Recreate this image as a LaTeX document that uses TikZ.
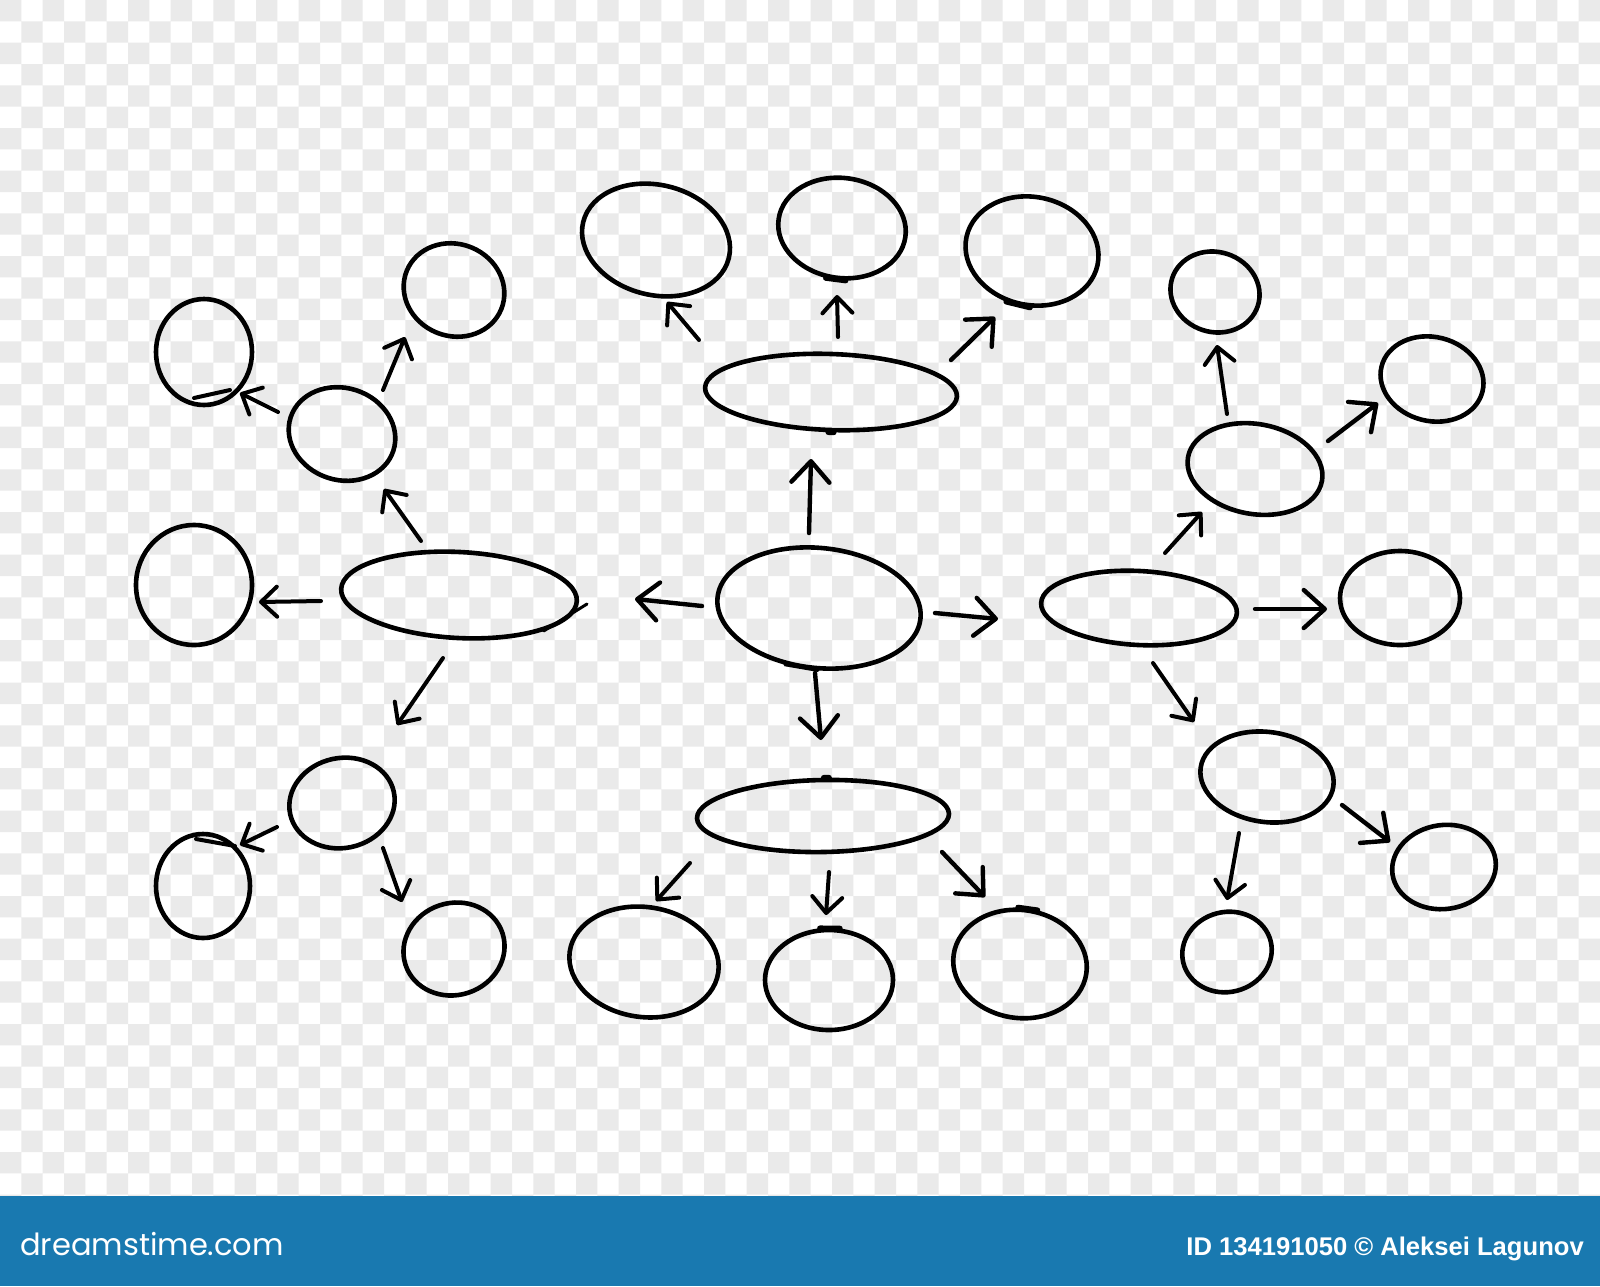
\documentclass[tikz,border=0pt]{standalone}
\usepackage{fontspec}
\usetikzlibrary{arrows.meta,shapes.geometric}
\definecolor{chk}{RGB}{234,234,234}
\definecolor{foot}{RGB}{25,121,176}
\newfontfamily\logofont{Poppins}
\newfontfamily\creditfont{Liberation Sans}
\newcommand\hblob[6]{\node[blob,minimum width=#4pt,minimum height=#5pt,rotate=#6] (#1) at (#2,#3) {};}
\begin{document}
\begin{tikzpicture}[x=1pt,y=-1pt,
  blob/.style={ellipse,draw=black,line width=4.6pt,inner sep=0pt},
  arr/.style={line width=4pt,line cap=round,-{Straight Barb[length=16pt,width=30pt,round]}},
  bigarr/.style={line width=4.4pt,line cap=round,-{Straight Barb[length=21pt,width=38pt,round]}},
  tail/.style={line width=5.5pt,line cap=round}]
\useasboundingbox (0,0) rectangle (1600,1286);
\fill[white] (0,0) rectangle (1600,1286);
\pgfmathsetmacro\s{1600/75}
\fill[chk]
  \foreach \r in {0,2,...,56}{\foreach \c in {0,2,...,74}{(\c*\s,\r*\s) rectangle ++(\s,\s)}}
  \foreach \r in {1,3,...,55}{\foreach \c in {1,3,...,73}{(\c*\s,\r*\s) rectangle ++(\s,\s)}};
\fill[foot] (0,1196) rectangle (1600,1286);
\node[anchor=base west,text=white,inner sep=0pt,font=\logofont\fontsize{30.5}{31}\selectfont] (logo) at (20,1255) {dreamstime.com};
\node[anchor=base east,text=white,inner sep=0pt,font=\creditfont\bfseries\fontsize{25.6}{26}\selectfont] (credit) at (1584,1255) {ID 134191050 © Aleksei Lagunov};

% centre
\hblob{C}{819}{608}{204}{120}{-6}
% top branch
\hblob{T}{831}{392}{252}{76}{-2}
\hblob{T1}{656}{240}{150}{110}{-14}
\hblob{T2}{842}{228}{128}{100}{-8}
\hblob{T3}{1032}{251}{134}{108}{-12}
% bottom branch
\hblob{B}{823}{816}{252}{72}{1}
\hblob{B1}{644}{962}{150}{110}{-8}
\hblob{B2}{829}{980}{128}{100}{0}
\hblob{B3}{1020}{964}{134}{108}{-8}
% left branch
\hblob{L}{459}{595}{236}{86}{-3}
\hblob{L0}{194}{585}{116}{120}{0}
\hblob{LU}{342}{434}{108}{92}{-18}
\hblob{LU1}{204}{352}{96}{106}{0}
\hblob{LU2}{454}{290}{102}{92}{-22}
\hblob{LD}{342}{803}{106}{90}{12}
\hblob{LD1}{203}{886}{94}{104}{0}
\hblob{LD2}{454}{949}{102}{92}{18}
% right branch
\hblob{R}{1139}{608}{196}{74}{-3}
\hblob{R0}{1400}{598}{120}{94}{0}
\hblob{RU}{1255}{469}{136}{90}{-10}
\hblob{RU1}{1215}{292}{90}{80}{-18}
\hblob{RU2}{1432}{379}{104}{84}{-14}
\hblob{RD}{1267}{777}{134}{90}{-8}
\hblob{RD1}{1227}{952}{90}{80}{14}
\hblob{RD2}{1444}{867}{104}{84}{8}

% stroke overlaps
\draw[tail] (T2.-100) -- (T2.-78);
\draw[tail] (T3.-105) -- (T3.-80);
\draw[tail] (B2.100) -- (B2.78);
\draw[tail] (B3.100) -- (B3.80);
\draw[tail] (B.88) -- (B.80);
\draw[tail] (T.-92) -- (T.-84);
\draw[line width=4pt,line cap=round] ([shift={(-10,46)}]LU1.center) -- ([shift={(26,38)}]LU1.center);
\draw[line width=4pt,line cap=round] ([shift={(-7,-47)}]LD1.center) -- ([shift={(32,-40)}]LD1.center);
\draw[line width=3pt,line cap=round] (C.-115) -- (C.-85);
\draw[line width=3pt,line cap=round] (L.-20) -- (587,604);

% arrow end points
\coordinate (cu1) at (809,533); \coordinate (cu2) at (811,459);
\coordinate (cl1) at (702,606); \coordinate (cl2) at (635,599);
\coordinate (cr1) at (935,613); \coordinate (cr2) at (998,619);
\coordinate (cd1) at (815,673); \coordinate (cd2) at (821,740);
\coordinate (t11) at (699,340); \coordinate (t12) at (667,302);
\coordinate (t21) at (838,337); \coordinate (t22) at (837,295);
\coordinate (t31) at (951,360); \coordinate (t32) at (995,317);
\coordinate (b11) at (690,863); \coordinate (b12) at (656,901);
\coordinate (b21) at (829,872); \coordinate (b22) at (826,915);
\coordinate (b31) at (942,852); \coordinate (b32) at (985,897);
\coordinate (l01) at (321,601); \coordinate (l02) at (259,602);
\coordinate (lu1) at (421,541); \coordinate (lu2) at (384,489);
\coordinate (ld1) at (443,658); \coordinate (ld2) at (397,725);
\coordinate (lua1) at (278,412); \coordinate (lua2) at (240,393);
\coordinate (lub1) at (383,390); \coordinate (lub2) at (405,337);
\coordinate (lda1) at (277,827); \coordinate (lda2) at (240,845);
\coordinate (ldb1) at (383,848); \coordinate (ldb2) at (402,902);
\coordinate (ru1) at (1165,553); \coordinate (ru2) at (1202,512);
\coordinate (r01) at (1255,609); \coordinate (r02) at (1327,609);
\coordinate (rd1) at (1153,663); \coordinate (rd2) at (1194,722);
\coordinate (rua1) at (1227,414); \coordinate (rua2) at (1217,345);
\coordinate (rub1) at (1328,441); \coordinate (rub2) at (1378,403);
\coordinate (rda1) at (1239,833); \coordinate (rda2) at (1227,900);
\coordinate (rdb1) at (1342,805); \coordinate (rdb2) at (1390,842);

\foreach \a/\b in {t11/t12,t21/t22,b11/b12,b21/b22,l01/l02,lu1/lu2,ld1/ld2,
  lua1/lua2,lub1/lub2,lda1/lda2,ldb1/ldb2,ru1/ru2,rd1/rd2,rua1/rua2,rda1/rda2}
  \draw[arr] (\a) -- (\b);
\foreach \a/\b in {cu1/cu2,cl1/cl2,cr1/cr2,cd1/cd2,t31/t32,b31/b32,
  r01/r02,rub1/rub2,rdb1/rdb2}
  \draw[bigarr] (\a) -- (\b);
\end{tikzpicture}
\end{document}
